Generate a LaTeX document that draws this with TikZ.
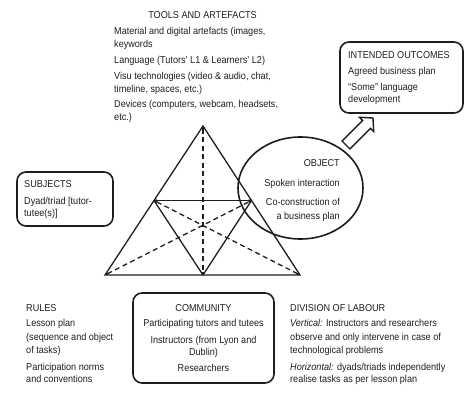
\documentclass[tikz,border=0pt]{standalone}
\usepackage{fontspec}
\setmainfont[FakeStretch=0.91]{Liberation Sans}
\usetikzlibrary{shapes.geometric,arrows.meta}
\definecolor{ink}{HTML}{1E1E1E}
\begin{document}
\begin{tikzpicture}[x=1pt,y=-1pt,
  every node/.style={text=ink,font=\fontsize{10}{12}\selectfont},
  txt/.style={inner sep=0,anchor=base west},
  ctr/.style={inner sep=0,anchor=base},
  rgt/.style={inner sep=0,anchor=base east},
  rbox/.style={draw=ink,line width=1.6pt,rounded corners=9pt,inner sep=0},
  tri/.style={draw=ink,line width=1.3pt},
  dsh/.style={draw=ink,line width=1.3pt,dash pattern=on 5pt off 3.5pt,{Latex[length=3pt,width=3pt]}-{Latex[length=3pt,width=3pt]}}]
\useasboundingbox (0,0) rectangle (474,401);
% Tools and artefacts
\node[ctr] (toolsT) at (202.5,18.6) {TOOLS AND ARTEFACTS};
\node[txt] (tools1) at (114,34.5) {Material and digital artefacts (images,};
\node[txt] (tools2) at (114,47.5) {keywords};
\node[txt] (tools3) at (114,63.5) {Language (Tutors' L1 \& Learners' L2)};
\node[txt] (tools4) at (114,79.5) {Visu technologies (video \& audio, chat,};
\node[txt] (tools5) at (114,92.5) {timeline, spaces, etc.)};
\node[txt] (tools6) at (114,107.5) {Devices (computers, webcam, headsets,};
\node[txt] (tools7) at (114,120.5) {etc.)};
% Intended outcomes
\node[rbox,minimum width=123pt,minimum height=71pt] (outbox) at (401.5,77.5) {};
\node[txt] (out1) at (348,58.6) {INTENDED OUTCOMES};
\node[txt] (out2) at (348,74.5) {Agreed business plan};
\node[txt] (out3) at (348,90.5) {“Some” language};
\node[txt] (out4) at (348,102.5) {development};
% Subjects
\node[rbox,minimum width=96pt,minimum height=54pt] (subbox) at (65,199) {};
\node[txt] (sub1) at (24,187.6) {SUBJECTS};
\node[txt] (sub2) at (24,204.5) {Dyad/triad [tutor-};
\node[txt] (sub3) at (24,216.5) {tutee(s)]};
% Triangle
\coordinate (A) at (203,126);
\coordinate (L) at (105,275);
\coordinate (R) at (300,275);
\coordinate (ML) at (154,200.5);
\coordinate (MR) at (251.5,200.5);
\coordinate (MB) at (203,275);
\draw[tri,line join=miter] (A) -- (L) -- (R) -- cycle;
\draw[tri] (ML) -- (MB) -- (MR);
\draw[tri,{Latex[length=3pt,width=3pt]}-{Latex[length=3pt,width=3pt]}] (ML) -- (MR);
\draw[dsh] (A) -- (MB);
\draw[dsh] (L) -- (MR);
\draw[dsh] (R) -- (ML);
% Object
\node[draw=ink,line width=1.6pt,ellipse,minimum width=125pt,minimum height=102pt,inner sep=0] (obj) at (300.5,188) {};
\node[rgt] (obj1) at (340,166.6) {OBJECT};
\node[rgt] (obj2) at (340,186.5) {Spoken interaction};
\node[rgt] (obj3) at (340,205.5) {Co-construction of};
\node[rgt] (obj4) at (340,219.5) {a business plan};
% Block arrow from object to outcomes
\draw[draw=ink,line width=1.4pt,fill=white,line join=miter]
  (373,118) -- (373.7,131.5) -- (370.5,128.3) -- (349.9,148.9) -- (342.1,141.1)
  -- (362.7,120.5) -- (359.5,117.3) -- cycle;
% Rules
\node[txt] (rul1) at (26,311.6) {RULES};
\node[txt] (rul2) at (26,326.5) {Lesson plan};
\node[txt] (rul3) at (26,340.5) {(sequence and object};
\node[txt] (rul4) at (26,353.5) {of tasks)};
\node[txt] (rul5) at (26,370.5) {Participation norms};
\node[txt] (rul6) at (26,382.5) {and conventions};
% Community
\node[rbox,minimum width=141pt,minimum height=90pt] (combox) at (203.5,338) {};
\node[ctr] (com1) at (203.5,311.6) {COMMUNITY};
\node[ctr] (com2) at (203.5,326.5) {Participating tutors and tutees};
\node[ctr] (com3) at (203.5,343.5) {Instructors (from Lyon and};
\node[ctr] (com4) at (203.5,355.5) {Dublin)};
\node[ctr] (com5) at (203.5,371.5) {Researchers};
% Division of labour
\node[txt] (div1) at (290,311.6) {DIVISION OF LABOUR};
\node[txt] (div2) at (290,326.5) {\textit{Vertical:} Instructors and researchers};
\node[txt] (div3) at (290,340.5) {observe and only intervene in case of};
\node[txt] (div4) at (290,353.5) {technological problems};
\node[txt] (div5) at (290,370.5) {\textit{Horizontal:} dyads/triads independently};
\node[txt] (div6) at (290,382.5) {realise tasks as per lesson plan};
\end{tikzpicture}
\end{document}
